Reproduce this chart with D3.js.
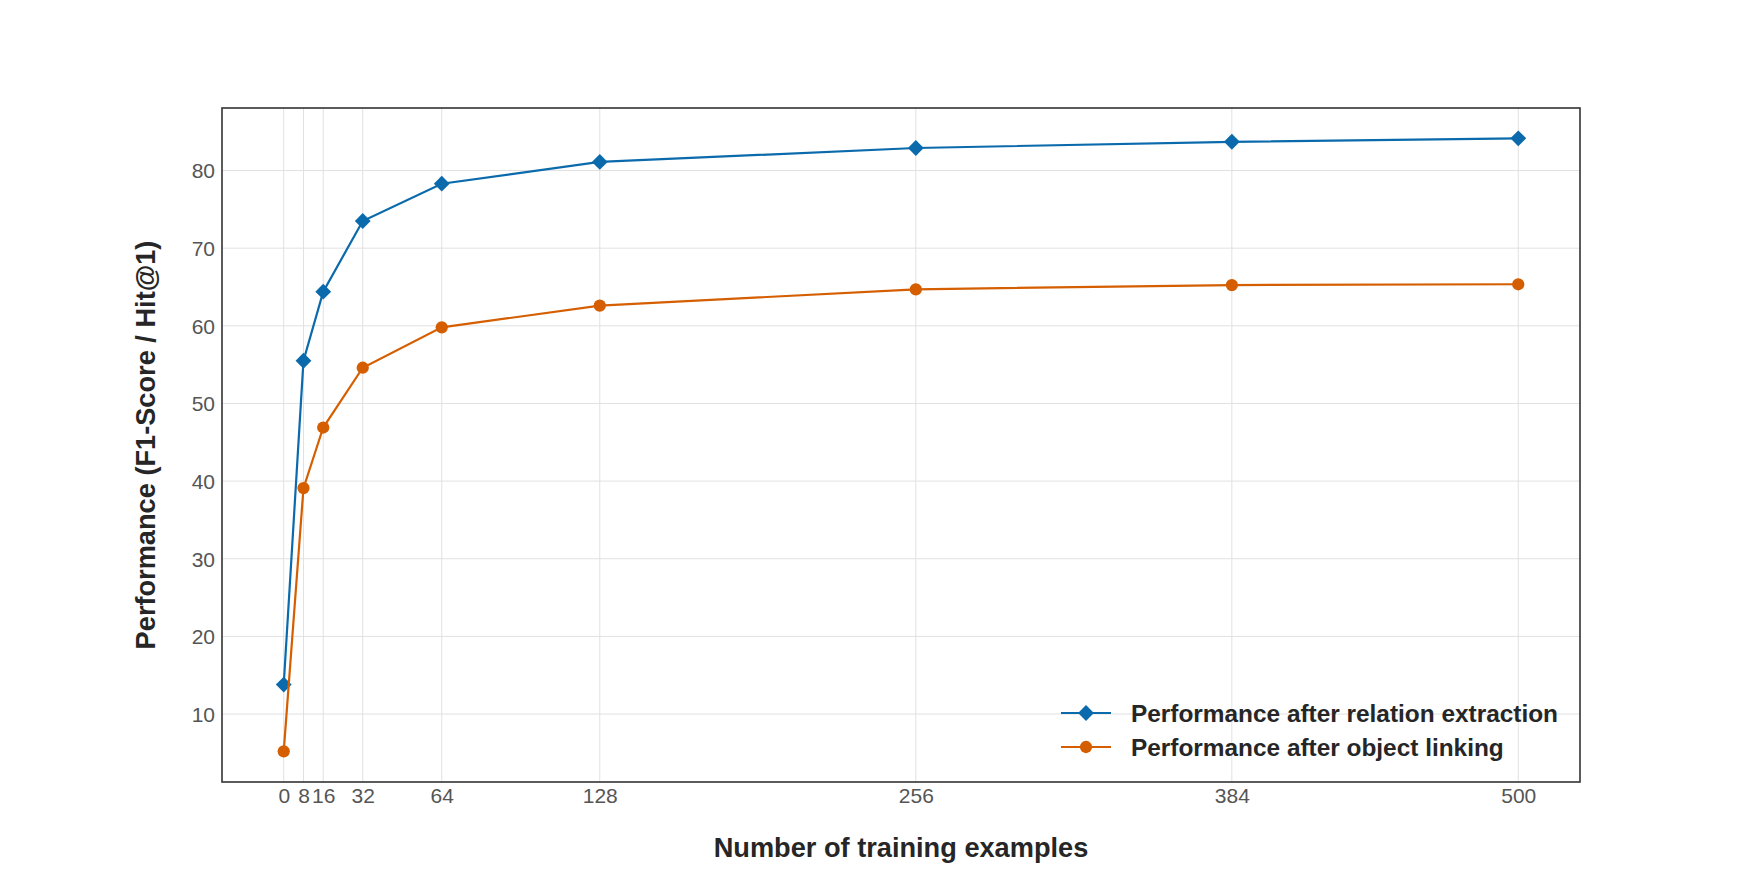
<!DOCTYPE html>
<html>
<head>
<meta charset="utf-8">
<script src="https://cdn.jsdelivr.net/npm/d3@7"></script>
<style>
    body { margin: 0; background: #fff; }
    text { font-family: "Liberation Sans", Arial, sans-serif; }
    .grid line { stroke: #e1e1e1; stroke-width: 1; }
    .tick-label { fill: #555; font-size: 21px; }
    .axis-title { fill: #262626; font-size: 27.2px; font-weight: bold; }
    .legend-label { fill: #262626; font-size: 24.4px; font-weight: bold; }
</style>
</head>
<body>
<div id="chart"></div>
<script>
const [svgW, svgH] = [1758, 880];
const MARGIN = {left: 222, right: 178, top: 108, bottom: 98};

const examples = [0, 8, 16, 32, 64, 128, 256, 384, 500];
const relationScores = [13.8, 55.5, 64.4, 73.5, 78.3, 81.1, 82.9, 83.7, 84.15];
const linkingScores = [5.2, 39.1, 46.9, 54.6, 59.8, 62.6, 64.7, 65.25, 65.35];
const yTicks = [10, 20, 30, 40, 50, 60, 70, 80];

const seriesNames = ["Performance after relation extraction", "Performance after object linking"];
const seriesColors = ["#0a6aac", "#d55e00"];
const DIAMOND_SIZE = 125;
const CIRCLE_SIZE = 118;

const width = svgW - MARGIN.left - MARGIN.right;
const height = svgH - MARGIN.top - MARGIN.bottom;

// matplotlib-like 5% margins
const xScale = d3.scaleLinear().domain([-25, 525]).range([0, width]);
const yScale = d3.scaleLinear().domain([1.25, 88.05]).range([height, 0]);

function initSVG() {
    let svg = d3.select("#chart").append("svg").attr("width", svgW).attr("height", svgH);
    svg.append("rect").attr("width", svgW).attr("height", svgH).attr("fill", "#fff");
    return svg.append("g").attr("transform", "translate(" + MARGIN.left + "," + MARGIN.top + ")");
}

function renderGrid(g) {
    let grid = g.append("g").attr("class", "grid");
    grid.selectAll("line.gx").data(examples).enter().append("line").attr("class", "gx")
        .attr("x1", d => xScale(d)).attr("x2", d => xScale(d))
        .attr("y1", 0).attr("y2", height);
    grid.selectAll("line.gy").data(yTicks).enter().append("line").attr("class", "gy")
        .attr("x1", 0).attr("x2", width)
        .attr("y1", d => yScale(d)).attr("y2", d => yScale(d));
}

function renderAxes(g) {
    let xAxis = d3.axisBottom(xScale).tickValues(examples).tickSize(0).tickPadding(0);
    let xg = g.append("g").attr("transform", "translate(0," + height + ")").call(xAxis);
    xg.select(".domain").remove();
    xg.selectAll("text").attr("class", "tick-label").attr("dy", null).attr("y", 21)
        .attr("fill", null).attr("font-size", null).attr("font-family", null);

    let yAxis = d3.axisLeft(yScale).tickValues(yTicks).tickSize(0).tickPadding(7);
    let yg = g.append("g").call(yAxis);
    yg.select(".domain").remove();
    yg.selectAll("text").attr("class", "tick-label").attr("dy", "0.35em")
        .attr("fill", null).attr("font-size", null).attr("font-family", null);

    g.append("rect").attr("width", width).attr("height", height)
        .attr("fill", "none").attr("stroke", "#333").attr("stroke-width", 1.6);

    g.append("text").attr("class", "axis-title").attr("text-anchor", "middle")
        .attr("x", width / 2).attr("y", height + 75)
        .text("Number of training examples");

    g.append("text").attr("class", "axis-title").attr("text-anchor", "middle")
        .attr("transform", "translate(" + (-67) + "," + (height / 2) + ") rotate(-90)")
        .text("Performance (F1-Score / Hit@1)");
}

function renderSeries(g, values, color, symbol, size) {
    let points = examples.map((x, i) => ({x: x, y: values[i]}));
    let line = d3.line().x(d => xScale(d.x)).y(d => yScale(d.y));
    g.append("path").datum(points).attr("d", line)
        .attr("fill", "none").attr("stroke", color).attr("stroke-width", 2.2);
    g.selectAll(null).data(points).enter().append("path")
        .attr("d", d3.symbol().type(symbol).size(size))
        .attr("transform", d => "translate(" + xScale(d.x) + "," + yScale(d.y) + ")" +
            (symbol === d3.symbolSquare ? " rotate(45)" : ""))
        .attr("fill", color);
}

function renderLegend(g) {
    let symbols = [d3.symbolSquare, d3.symbolCircle];
    let sizes = [DIAMOND_SIZE, CIRCLE_SIZE];
    let legend = g.append("g").attr("transform", "translate(" + (1061 - MARGIN.left) + "," + (713 - MARGIN.top) + ")");
    let items = legend.selectAll("g").data(seriesNames).enter().append("g")
        .attr("transform", (d, i) => "translate(0," + i * 34 + ")");
    items.append("line").attr("x1", 0).attr("x2", 50).attr("y1", 0).attr("y2", 0)
        .attr("stroke", (d, i) => seriesColors[i]).attr("stroke-width", 2.2);
    items.append("path")
        .attr("d", (d, i) => d3.symbol().type(symbols[i]).size(sizes[i])())
        .attr("transform", (d, i) => "translate(25,0)" + (i === 0 ? " rotate(45)" : ""))
        .attr("fill", (d, i) => seriesColors[i]);
    items.append("text").attr("class", "legend-label").attr("x", 70).attr("dy", "0.36em")
        .text(d => d);
}

function main() {
    let g = initSVG();
    renderGrid(g);
    renderAxes(g);
    renderSeries(g, relationScores, seriesColors[0], d3.symbolSquare, DIAMOND_SIZE);
    renderSeries(g, linkingScores, seriesColors[1], d3.symbolCircle, CIRCLE_SIZE);
    renderLegend(g);
}

main();
</script>
</body>
</html>
